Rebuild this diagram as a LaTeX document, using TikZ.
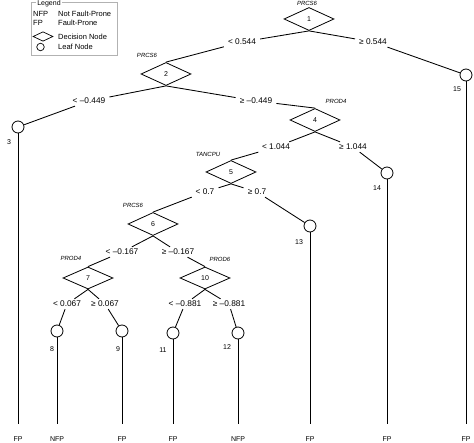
\documentclass[tikz,border=0pt]{standalone}
\usepackage{fontspec}
\setmainfont{Liberation Sans}
\usetikzlibrary{shapes.geometric}
\begin{document}
\begin{tikzpicture}[x=1pt,y=-1pt,
  dec/.style={diamond,draw,line width=0.8pt,minimum width=50pt,minimum height=23pt,inner sep=0pt,font=\fontsize{7}{8}\selectfont},
  leaf/.style={circle,draw,line width=0.8pt,minimum size=12pt,inner sep=0pt},
  var/.style={font=\fontsize{6}{7}\selectfont\itshape,inner sep=1pt},
  elab/.style={font=\fontsize{8.3}{9}\selectfont,inner xsep=4pt,inner ysep=2pt},
  num/.style={font=\fontsize{7}{8}\selectfont,inner sep=1pt},
  cls/.style={font=\fontsize{7}{8}\selectfont,anchor=base,inner sep=2pt},
  edge/.style={line width=0.85pt},
  stem/.style={line width=0.7pt,shorten >=11pt},
  legtxt/.style={font=\fontsize{7.5}{8}\selectfont,anchor=base west,inner sep=0pt}]
\useasboundingbox (0,0) rectangle (474,443);
% legend
\draw[gray!60,line width=0.5pt] (31,2) rectangle (117,55);
\node[fill=white,inner sep=1pt,font=\fontsize{7}{8}\selectfont] (lgt) at (49,3.6) {Legend};
\node[legtxt] (k1) at (33,16.5) {NFP};
\node[legtxt] (k1t) at (58,16.5) {Not Fault-Prone};
\node[legtxt] (k2) at (33,25.5) {FP};
\node[legtxt] (k2t) at (58,25.5) {Fault-Prone};
\node[diamond,draw,line width=0.7pt,minimum width=20pt,minimum height=9.5pt,inner sep=0pt] (k3) at (43,36.5) {};
\node[legtxt] (k3t) at (58,39.5) {Decision Node};
\node[circle,draw,line width=0.7pt,minimum size=7.5pt,inner sep=0pt] (k4) at (40.5,47) {};
\node[legtxt] (k4t) at (58,49.5) {Leaf Node};
% decision nodes
\node[dec] (n1) at (309,19) {1};
\node[var] (v1) at (307,3.5) {PRCS6};
\node[dec] (n2) at (166,74) {2};
\node[var] (v2) at (147,55) {PRCS6};
\node[dec] (n4) at (315,120) {4};
\node[var] (v4) at (336,101) {PROD4};
\node[dec] (n5) at (231,172) {5};
\node[var] (v5) at (208,154) {TANCPU};
\node[dec] (n6) at (153,224) {6};
\node[var] (v6) at (133,205) {PRCS6};
\node[dec,minimum height=22pt] (n7) at (88,278) {7};
\node[var] (v7) at (71,258) {PROD4};
\node[dec,minimum height=22pt] (n10) at (205,278) {10};
\node[var] (v10) at (220,259) {PROD6};
% leaves
\node[leaf] (l3) at (18,127) {};
\node[leaf] (l15) at (466,75) {};
\node[leaf] (l14) at (387,173) {};
\node[leaf] (l13) at (310,226) {};
\node[leaf] (l8) at (57,331) {};
\node[leaf] (l9) at (122,331) {};
\node[leaf] (l11) at (173,333) {};
\node[leaf] (l12) at (238,333) {};
\node[num] (t3) at (9,142) {3};
\node[num] (t15) at (457,89) {15};
\node[num] (t14) at (377,188) {14};
\node[num] (t13) at (299,242) {13};
\node[num] (t8) at (52,349) {8};
\node[num] (t9) at (118,349) {9};
\node[num] (t11) at (163,350) {11};
\node[num] (t12) at (227,347) {12};
% edge labels
\node[elab] (a1L) at (242,42) {< 0.544};
\node[elab] (a1R) at (373,42) {≥ 0.544};
\node[elab] (a2L) at (89,101) {< –0.449};
\node[elab] (a2R) at (256,101) {≥ –0.449};
\node[elab] (a4L) at (276,147) {< 1.044};
\node[elab] (a4R) at (353,147) {≥ 1.044};
\node[elab] (a5L) at (205,192) {< 0.7};
\node[elab] (a5R) at (257,192) {≥ 0.7};
\node[elab] (a6L) at (122,252) {< –0.167};
\node[elab] (a6R) at (178,252) {≥ –0.167};
\node[elab] (a7L) at (67,304) {< 0.067};
\node[elab] (a7R) at (105,304) {≥ 0.067};
\node[elab] (a10L) at (185,304) {< –0.881};
\node[elab] (a10R) at (229,304) {≥ –0.881};
% edges
\draw[edge] (n1.south) -- (a1L) -- (n2.north);
\draw[edge] (n1.south) -- (a1R) -- (l15);
\draw[edge] (n2.south) -- (a2L) -- (l3);
\draw[edge] (n2.south) -- (a2R) -- (n4.north);
\draw[edge] (n4.south) -- (a4L) -- (n5.north);
\draw[edge] (n4.south) -- (a4R) -- (l14);
\draw[edge] (n5.south) -- (a5L) -- (n6.north);
\draw[edge] (n5.south) -- (a5R) -- (l13);
\draw[edge] (n6.south) -- (a6L) -- (n7.north);
\draw[edge] (n6.south) -- (a6R) -- (n10.north);
\draw[edge] (n7.south) -- (a7L) -- (l8);
\draw[edge] (n7.south) -- (a7R) -- (l9);
\draw[edge] (n10.south) -- (a10L) -- (l11);
\draw[edge] (n10.south) -- (a10R) -- (l12);
% classes
\node[cls] (b3) at (18,442) {FP};
\node[cls] (b8) at (57,442) {NFP};
\node[cls] (b9) at (122,442) {FP};
\node[cls] (b11) at (173,442) {FP};
\node[cls] (b12) at (238,442) {NFP};
\node[cls] (b13) at (310,442) {FP};
\node[cls] (b14) at (387,442) {FP};
\node[cls] (b15) at (466,442) {FP};
\foreach \i in {3,8,9,11,12,13,14,15} {
  \draw[stem] (l\i) -- (b\i);
}
\end{tikzpicture}
\end{document}
